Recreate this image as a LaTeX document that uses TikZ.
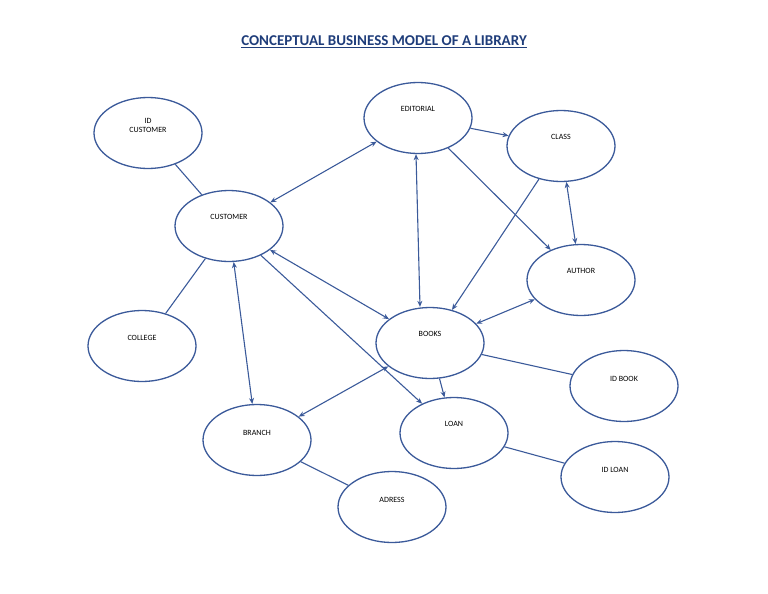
\documentclass[tikz,border=0pt]{standalone}
\usepackage{fontspec}
\setmainfont{Carlito}
\usetikzlibrary{shapes.geometric,arrows.meta}
\definecolor{ln}{HTML}{3B5A9A}
\definecolor{tt}{HTML}{1F3D7A}
\begin{document}
\begin{tikzpicture}[x=1pt,y=-1pt,
  ent/.style={ellipse,draw=ln,line width=1.3pt,minimum width=108pt,minimum height=71pt,inner sep=0pt,font=\fontsize{8}{9.5}\selectfont,align=center,fill=white},
  rel/.style={draw=ln,line width=1.1pt},
  ar/.style={rel,-{Stealth[length=6pt,width=5pt]}},
  bi/.style={rel,{Stealth[length=6pt,width=5pt]}-{Stealth[length=6pt,width=5pt]}}]
\useasboundingbox (0,0) rectangle (768,594);
\node[font=\bfseries\fontsize{15}{18}\selectfont,text=tt] (title) at (384,42) {\underline{CONCEPTUAL BUSINESS MODEL OF A LIBRARY}};
\node[ent] (idc) at (148,133) {ID\\CUSTOMER\\[6pt]};
\node[ent] (cus) at (229,226) {CUSTOMER\\[8pt]};
\node[ent] (edi) at (418,118) {EDITORIAL\\[8pt]};
\node[ent] (cla) at (561,146) {CLASS\\[8pt]};
\node[ent] (aut) at (581,280) {AUTHOR\\[8pt]};
\node[ent] (boo) at (430,343) {BOOKS\\[8pt]};
\node[ent] (col) at (142,346) {COLLEGE\\[6pt]};
\node[ent] (idb) at (624,386) {ID BOOK\\[4pt]};
\node[ent] (bra) at (257,440) {BRANCH\\[4pt]};
\node[ent] (loa) at (454,433) {LOAN\\[8pt]};
\node[ent] (idl) at (615,477) {ID LOAN\\[4pt]};
\node[ent] (adr) at (392,507) {ADRESS\\[4pt]};
\draw[rel] (idc) -- (cus);
\draw[rel] (cus) -- (col);
\draw[bi] (cus) -- (edi);
\draw[ar] (edi) -- (cla);
\draw[ar] (edi) -- (aut);
\draw[ar] (cla) -- (boo);
\draw[bi] (cla) -- (aut);
\draw[bi] ([xshift=-10pt]boo.north) -- ([xshift=-2pt]edi.south);
\draw[bi] (cus) -- (boo);
\draw[bi] (aut) -- (boo);
\draw[bi] (cus) -- (bra);
\draw[ar] (cus) -- (loa);
\draw[bi] (boo) -- (bra);
\draw[ar] (boo) -- (loa);
\draw[rel] (boo) -- (idb);
\draw[rel] (loa) -- (idl);
\draw[rel] (bra) -- (adr);
\end{tikzpicture}
\end{document}
